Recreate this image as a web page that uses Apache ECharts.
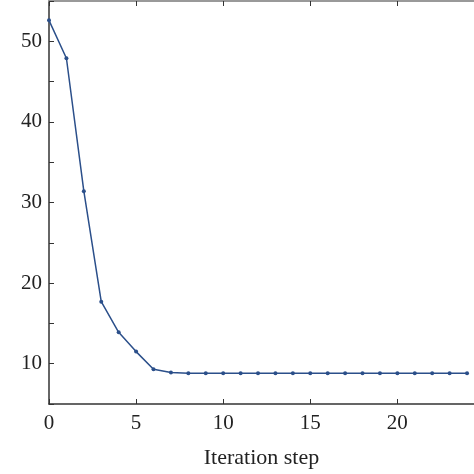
<!DOCTYPE html><html><head><meta charset="utf-8"><script src="https://cdn.jsdelivr.net/npm/echarts@6/dist/echarts.min.js"></script></head><body style="margin:0"><div id="c" style="width:474px;height:474px"></div><script>
const steps=[0,1,2,3,4,5,6,7,8,9,10,11,12,13,14,15,16,17,18,19,20,21,22,23,24];
const values=[52.6,47.9,31.4,17.7,13.9,11.5,9.3,8.9,8.8,8.8,8.8,8.8,8.8,8.8,8.8,8.8,8.8,8.8,8.8,8.8,8.8,8.8,8.8,8.8,8.8];
const xLabel='Iteration step';
const font='Liberation Serif';
const c=echarts.init(document.getElementById('c'));
c.setOption({
 animation:false,
 grid:{left:49,right:0,top:1,bottom:64},
 xAxis:[{type:'value',min:0,max:24.4,interval:5,name:xLabel,nameLocation:'middle',nameGap:43,
  nameTextStyle:{fontFamily:font,fontSize:22,color:'#222'},
  axisLine:{onZero:false,lineStyle:{color:'#333',width:1.5}},axisTick:{inside:true,length:5,lineStyle:{color:'#333'}},
  axisLabel:{fontFamily:font,fontSize:21,color:'#222',showMaxLabel:false,margin:9},splitLine:{show:false}},
  {type:'value',position:'top',min:0,max:24.4,interval:5,axisLine:{lineStyle:{color:'#999',width:2}},axisTick:{inside:true,length:5,lineStyle:{color:'#333'}},axisLabel:{show:false},splitLine:{show:false}}],
 yAxis:{type:'value',min:5,max:55,interval:5,
  axisLine:{show:true,lineStyle:{color:'#333',width:1.5}},axisTick:{inside:true,length:5,lineStyle:{color:'#333'}},
  axisLabel:{fontFamily:font,fontSize:21,color:'#222',margin:7,formatter:v=>(v%10===0&&v<55)?String(v):''},splitLine:{show:false}},
 series:[{type:'line',data:steps.map((s,i)=>[s,values[i]]),symbol:'circle',symbolSize:4,
  lineStyle:{color:'#2b4f8a',width:1.5},itemStyle:{color:'#2b4f8a'}}]
});
</script></body></html>
